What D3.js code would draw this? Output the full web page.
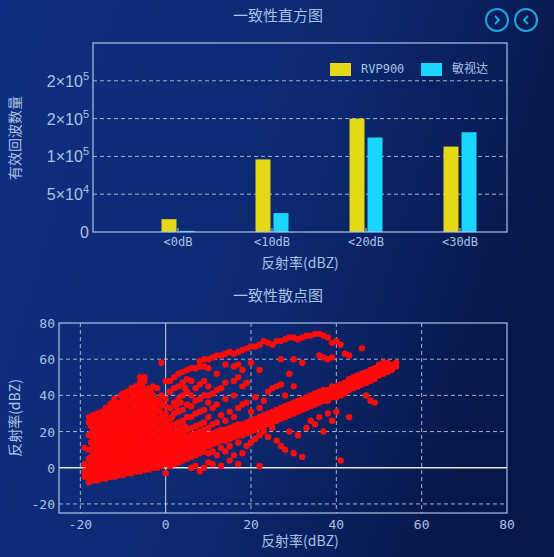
<!DOCTYPE html>
<html><head><meta charset="utf-8">
<script src="https://cdn.jsdelivr.net/npm/d3@7"></script>
<style>body{margin:0;background:#0b1f5c}svg{display:block}</style></head>
<body><svg id="c" width="554" height="557"></svg>
<script>
const categories=["<0dB","<10dB","<20dB","<30dB"];
const seriesNames=["RVP900","敏视达"];
const rvp900=[17000,96000,150000,113000];
const minshida=[1500,25000,125000,132000];
const barTicks=[0,50000,100000,150000,200000];
const scatterTicks=[-20,0,20,40,60,80];
// scatter columns: x -> list of y values
const scatterCols=`-19:-5,-2,2,11
-18:-8,-6,-3,0,5,10,18,25,28
-17:-7,-4,-1,3,7,12,16,21,26,29
-16:-7,-5,-2,1,4,8,12,15,20,24,27,30
-15:-6,-4,-1,2,5,9,13,17,22,26,31
-14:-6,-3,0,3,6,10,14,18,23,28,33
-13:-5,-3,0,3,7,11,15,19,25,30,35
-12:-5,-2,1,4,8,12,16,20,24,29,34,38
-11:-4,-1,2,5,9,13,17,21,26,31,36
-10:-4,-1,2,6,10,14,18,22,27,33,38,41
-9:-3,0,3,6,10,15,19,24,28,32,36,42
-8:-3,0,3,7,11,15,20,25,30,35,40,44
-7:-2,1,4,8,12,16,21,26,31,36,41,45
-6:-2,1,5,8,12,17,22,27,32,37,42,47,50
-5:-1,2,5,9,13,18,23,28,33,38,43,48,50
-4:-1,2,6,10,14,19,24,29,34,39,44
-3:0,3,6,10,15,20,25,30,35,40,45
-2:0,3,7,11,16,21,26,31,36,44
-1:1,4,7,11,15,20,25,30,35,40,58
0:-3,2,5,8,11,14,18,22,26,30,34,38,48
1:1,4,7,10,13,17,22,27,33,42,48
2:2,5,8,11,14,18,24,30,36,44,50
3:3,6,9,12,15,19,25,31,38,45,52
4:4,7,10,13,16,20,26,32,40,47,53
5:5,8,11,14,17,21,28,35,42,49,54
6:0,6,9,12,15,18,22,28,34,40,48,55
7:1,7,10,13,16,19,23,30,37,44,55
8:-2,8,11,14,17,20,24,31,38,46,56,59
9:0,9,12,15,18,21,25,32,40,48,56,60
10:3,8,12,15,18,22,28,36,40,45,55,60
11:2,9,13,16,19,24,33,41,61
12:7,14,17,20,25,35,43,52,62
13:1,11,15,18,21,29,44,62
14:9,15,18,21,26,38,47,57,63
15:4,12,16,19,22,31,64
16:7,17,20,23,28,40,48,56,63
17:2,14,18,21,24,33,50,57,64
18:8,18,21,24,35,45,54,65
19:12,19,22,25,36,47,66
20:14,20,23,26,31,58,67
21:16,21,24,27,39,67
22:1,18,22,25,28,33,54,68
23:20,23,26,29,37,70
24:17,24,27,30,42,69
25:22,25,28,31,44,68
26:15,26,29,32,45,70
27:12,27,30,33,46,60,70
28:10,28,31,34,40,71
29:20,29,32,35,52,72
30:8,30,33,36,45,60,72
31:18,31,34,37,71
32:6,32,35,38,58,72
33:22,33,36,39,73
34:26,34,37,40,73
35:24,35,38,41,74
36:28,36,39,42,62,74
37:20,37,40,43,61,73
38:30,37,40,43,60,72
39:26,39,42,45,61,69
40:31,39,42,45,70
41:4,40,43,46,68
42:41,44,47,63
43:28,43,46,49,62
44:44,47,50
45:45,48,51
46:46,49,52,66
47:40,47,50,53
48:37,48,51,54
49:36,49,52,55
50:51,54,57
51:52,55,58
52:53,56,58
53:54,57
54:56,58
-17.5:-6,-2,2,6,10,14,19,23,27
-16.5:-6,-3,0,3,6,10,14,18,22,26,29
-15.5:-5,-2,1,4,7,11,15,19,24,28
-14.5:-5,-2,1,4,8,12,16,20,25,30
-13.5:-4,-1,2,5,9,13,17,22,27,32
-12.5:-4,-1,2,6,10,14,18,22,27,32,36
-11.5:-3,0,3,7,11,15,19,23,28,33
-10.5:-3,0,4,8,12,16,20,24,30,35,40
-9.5:-2,1,5,8,12,17,21,26,30,34,39
-8.5:-2,1,5,9,13,17,22,27,32,37,42
-7.5:-1,2,6,10,14,18,23,28,33,38,43
-6.5:0,3,7,10,14,19,24,29,34,39,45
-5.5:0,3,7,11,15,20,25,30,35,40,46
-4.5:1,4,8,12,16,21,26,31,36,41
-3.5:1,4,8,12,17,22,27,32,37,42
-2.5:2,5,9,13,18,23,28,33,38
-1.5:2,6,9,13,17,22,27,32,37
-0.5:3,6,9,13,16,20,24,28
0.5:3,6,9,12,15,19,24
1.5:3,6,9,12,15,19,28
2.5:4,7,10,13,16,21,34
3.5:5,8,11,14,17,22,36
4.5:6,9,12,15,18,23,44`;
const points=[];
scatterCols.split("\n").forEach(l=>{const [x,ys]=l.split(":");ys.split(",").forEach(y=>points.push([+x,+y]));});

const svg=d3.select("#c");
const defs=svg.append("defs");
const g=defs.append("linearGradient").attr("id","bg").attr("x1",0).attr("y1",0).attr("x2",1).attr("y2",0.3);
g.append("stop").attr("offset",0).attr("stop-color","#0f3080");
g.append("stop").attr("offset",0.6).attr("stop-color","#0c2870");
g.append("stop").attr("offset",1).attr("stop-color","#08174a");
svg.append("rect").attr("width",554).attr("height",557).attr("fill","url(#bg)");
const txt="#a8c2e6", font="'Noto Sans CJK SC', sans-serif";

[[497,">"],[526,"<"]].forEach(([cx,s])=>{
  svg.append("circle").attr("cx",cx).attr("cy",20).attr("r",11).attr("fill","none").attr("stroke","#1aa6e0").attr("stroke-width",2);
  const d=s===">"?"M-2,-4L2,0L-2,4":"M2,-4L-2,0L2,4";
  svg.append("path").attr("transform",`translate(${cx},20)`).attr("d",d).attr("fill","none").attr("stroke","#1aa6e0").attr("stroke-width",2);
});
svg.append("text").attr("x",278).attr("y",21).attr("text-anchor","middle").attr("fill",txt).attr("font-size",15).attr("font-family",font).text("一致性直方图");
svg.append("text").attr("x",278).attr("y",301).attr("text-anchor","middle").attr("fill",txt).attr("font-size",15).attr("font-family",font).text("一致性散点图");

const L=93,R=507,T=43,B=232;
const y=d3.scaleLinear().domain([0,250000]).range([B,T]);
const x0=d3.scaleBand().domain(categories).range([131,507]);
svg.append("g").selectAll("line").data(barTicks.slice(1)).join("line")
 .attr("x1",L).attr("x2",R).attr("y1",d=>y(d)).attr("y2",d=>y(d)).attr("stroke","#b8cdea").attr("stroke-dasharray","4,3").attr("opacity",0.85);
function fmt(sel,d){
  if(d===0){sel.text("0");return;}
  const e=Math.floor(Math.log10(d)), m=Math.round(d/Math.pow(10,e));
  sel.append("tspan").text(m+"×10");
  sel.append("tspan").attr("font-size",11).attr("dy",-7).text(e);
}
svg.append("g").selectAll("text").data(barTicks).join("text")
 .attr("x",L-4).attr("y",d=>y(d)+6).attr("text-anchor","end").attr("fill",txt).attr("font-size",16).attr("font-family","'Liberation Sans',Arial")
 .each(function(d){fmt(d3.select(this),d);});
const bw=15;
categories.forEach((c,i)=>{
  const cx=x0(c)+x0.bandwidth()/2;
  svg.append("rect").attr("x",cx-bw-1.5).attr("y",y(rvp900[i])).attr("width",bw).attr("height",B-y(rvp900[i])).attr("fill","#e5d817");
  svg.append("rect").attr("x",cx+1.5).attr("y",y(minshida[i])).attr("width",bw).attr("height",B-y(minshida[i])).attr("fill","#1bd6fb");
  svg.append("line").attr("x1",cx).attr("x2",cx).attr("y1",B).attr("y2",B-4).attr("stroke","#b8cdea");
  svg.append("text").attr("x",cx).attr("y",B+14).attr("text-anchor","middle").attr("fill",txt).attr("font-size",12).attr("font-family","'DejaVu Sans Mono',monospace").text(c);
});
svg.append("rect").attr("x",L).attr("y",T).attr("width",R-L).attr("height",B-T).attr("fill","none").attr("stroke","#a8c4ea").attr("stroke-width",1.2);
svg.append("text").attr("x",300).attr("y",268).attr("text-anchor","middle").attr("fill",txt).attr("font-size",14).attr("font-family",font).text("反射率(dBZ)");
svg.append("text").attr("transform","translate(20,138) rotate(-90)").attr("text-anchor","middle").attr("fill",txt).attr("font-size",14).attr("font-family",font).text("有效回波数量");
[[330,"#e5d817",seriesNames[0]],[421,"#1bd6fb",seriesNames[1]]].forEach(([lx,col,n])=>{
  svg.append("rect").attr("x",lx).attr("y",63).attr("width",21).attr("height",13).attr("fill",col);
  svg.append("text").attr("x",lx+31).attr("y",73).attr("fill",txt).attr("font-size",12).attr("font-family",n==="RVP900"?"'DejaVu Sans Mono',monospace":font).text(n);
});

const SL=59,SR=507,ST=323,SB=513;
const sx=d3.scaleLinear().domain([-25,80]).range([SL,SR]);
const sy=d3.scaleLinear().domain([-25,80]).range([SB,ST]);
scatterTicks.forEach(t=>{
  if(t!==0&&t!==80){
    svg.append("line").attr("x1",sx(t)).attr("x2",sx(t)).attr("y1",ST).attr("y2",SB).attr("stroke","#b8cdea").attr("stroke-dasharray","4,3").attr("opacity",0.85);
    svg.append("line").attr("x1",SL).attr("x2",SR).attr("y1",sy(t)).attr("y2",sy(t)).attr("stroke","#b8cdea").attr("stroke-dasharray","4,3").attr("opacity",0.85);
  }
});
svg.append("line").attr("x1",sx(0)).attr("x2",sx(0)).attr("y1",ST).attr("y2",SB).attr("stroke","#c8d8f0");
svg.append("line").attr("x1",SL).attr("x2",SR).attr("y1",sy(0)).attr("y2",sy(0)).attr("stroke","#e8e4dc").attr("stroke-width",1.3);
svg.append("g").selectAll("circle").data(points).join("circle")
 .attr("cx",d=>sx(d[0])).attr("cy",d=>sy(d[1])).attr("r",3.2).attr("fill","#ff0a0a");
svg.append("rect").attr("x",SL).attr("y",ST).attr("width",SR-SL).attr("height",SB-ST).attr("fill","none").attr("stroke","#a8c4ea").attr("stroke-width",1.2);
const mono="'DejaVu Sans Mono',monospace";
svg.append("g").selectAll("text").data(scatterTicks).join("text")
 .attr("x",d=>sx(d)).attr("y",SB+16).attr("text-anchor","middle").attr("fill",txt).attr("font-size",13).attr("font-family",mono).text(d=>d);
svg.append("g").selectAll("text").data(scatterTicks).join("text")
 .attr("x",SL-4).attr("y",d=>sy(d)+5).attr("text-anchor","end").attr("fill",txt).attr("font-size",13).attr("font-family",mono).text(d=>d);
svg.append("text").attr("x",300).attr("y",546).attr("text-anchor","middle").attr("fill",txt).attr("font-size",14).attr("font-family",font).text("反射率(dBZ)");
svg.append("text").attr("transform","translate(20,418) rotate(-90)").attr("text-anchor","middle").attr("fill",txt).attr("font-size",14).attr("font-family",font).text("反射率(dBZ)");
</script></body></html>
